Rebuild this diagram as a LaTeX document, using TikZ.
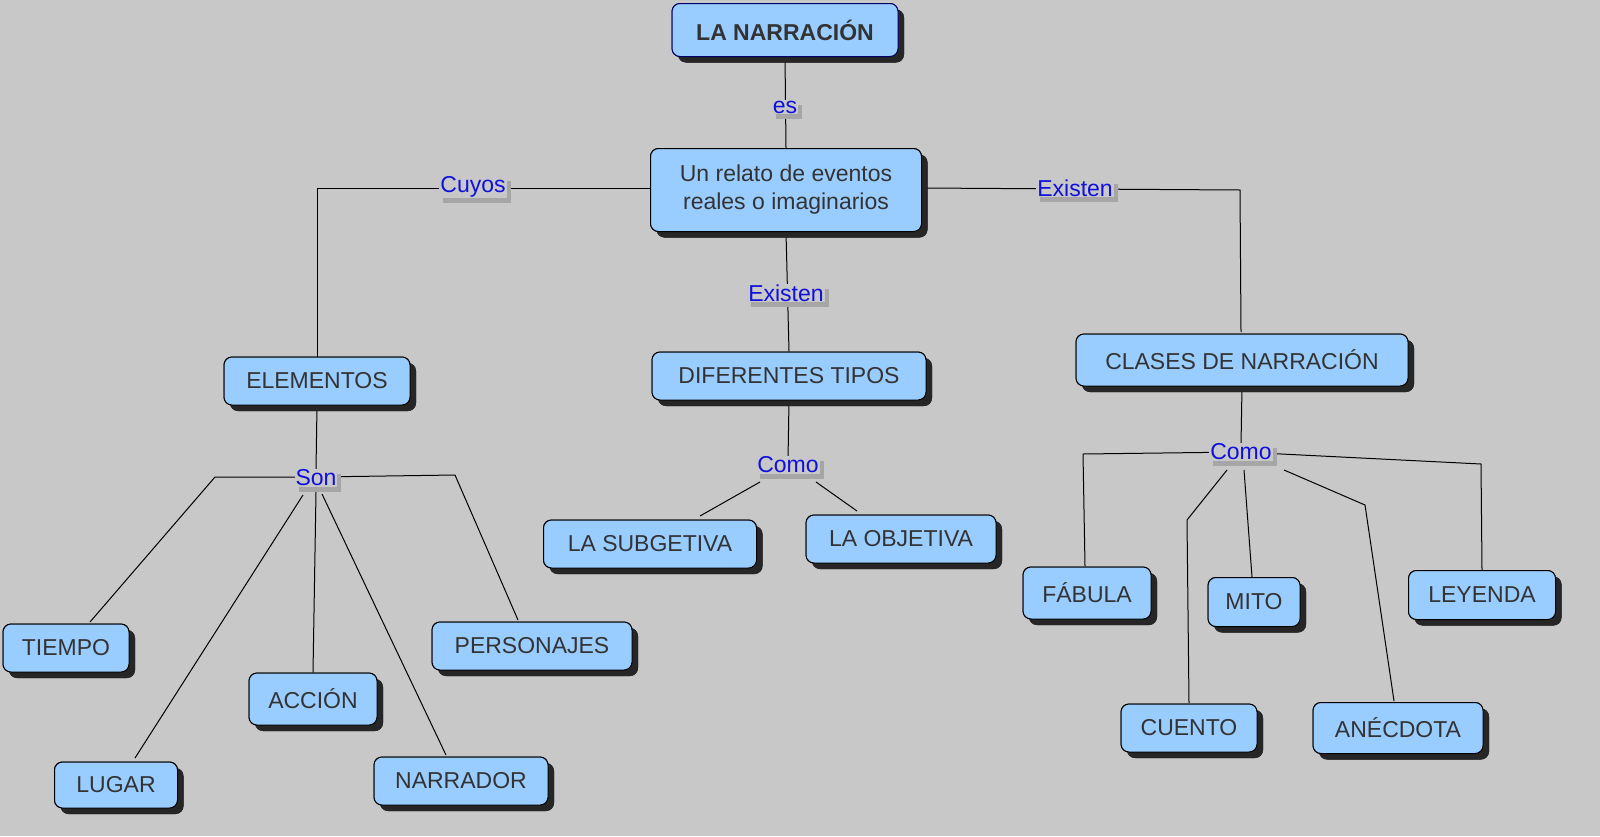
\documentclass[tikz,border=0pt]{standalone}
\usepackage{fontspec}
\setmainfont{Liberation Sans}
\usetikzlibrary{shadows}
\definecolor{bg}{HTML}{C8C8C8}
\definecolor{boxc}{HTML}{99CCFF}
\definecolor{lbl}{HTML}{1010DD}
\definecolor{tx}{HTML}{333333}
\tikzset{
  box/.style={draw=black, line width=1pt, fill=boxc, rounded corners=8pt, text=tx, font=\fontsize{23}{28}\selectfont, minimum height=48pt, align=center, inner sep=2pt,
   drop shadow={shadow xshift=6pt, shadow yshift=-6pt, fill=black!85, opacity=1}},
  lab/.style={fill=bg, text=lbl, font=\fontsize{23}{28}\selectfont, inner sep=1pt,
   drop shadow={shadow xshift=4pt, shadow yshift=-5pt, fill=black!35, opacity=1}},
  ln/.style={line width=1pt}
}
\begin{document}
\begin{tikzpicture}[x=1pt,y=-1pt]
\fill[bg] (0,0) rectangle (1600,836);
\useasboundingbox (0,0) rectangle (1600,836);
% lines first
\coordinate (c1) at (317,188);
\coordinate (c2) at (1240,190);
\coordinate (s1) at (215,477);
\coordinate (s2) at (455,475);
\coordinate (r1) at (1083,454);
\coordinate (r2) at (1187,520);
\coordinate (r3) at (1365,505);
\coordinate (r4) at (1481,464);
\node[box, draw=blue!40!black, minimum width=226, minimum height=53, font=\fontsize{23}{28}\selectfont\bfseries] (ln) at (785,30) {LA NARRACIÓN};
\node[box, minimum width=271, minimum height=83] (rel) at (786,190) {Un relato de eventos\\reales o imaginarios};
\node[box, minimum width=186] (ele) at (317,381) {ELEMENTOS};
\node[box, minimum width=274] (dif) at (789,376) {DIFERENTES TIPOS};
\node[box, minimum width=332, minimum height=52] (cla) at (1242,360) {CLASES DE NARRACIÓN};
\node[box, minimum width=126] (tie) at (66,648) {TIEMPO};
\node[box, minimum width=123, minimum height=46] (lug) at (116,785) {LUGAR};
\node[box, minimum width=128, minimum height=52] (acc) at (313,699) {ACCIÓN};
\node[box, minimum width=174] (nar) at (461,781) {NARRADOR};
\node[box, minimum width=200] (per) at (532,646) {PERSONAJES};
\node[box, minimum width=213] (sub) at (650,544) {LA SUBGETIVA};
\node[box, minimum width=190] (obj) at (901,539) {LA OBJETIVA};
\node[box, minimum width=128, minimum height=52] (fab) at (1087,593) {FÁBULA};
\node[box, minimum width=92, minimum height=49] (mit) at (1254,602) {MITO};
\node[box, minimum width=147, minimum height=49] (ley) at (1482,595) {LEYENDA};
\node[box, minimum width=136] (cue) at (1189,728) {CUENTO};
\node[box, minimum width=170, minimum height=51] (ane) at (1398,728) {ANÉCDOTA};
% labels
\begin{scope}[on background layer/.style={}]
\draw[ln] (ln.south) -- (rel.north);
\draw[ln] (rel.west |- 0,188) -- (c1) -- (ele.north);
\draw[ln] (rel.east |- 0,188) -- (c2) -- (1241,332);
\draw[ln] (rel.south) -- (dif.north);
\draw[ln] (ele.south) -- (316,470);
\draw[ln] (316,477) -- (s1) -- (90,622);
\draw[ln] (316,477) -- (s2) -- (518,620);
\draw[ln] (303,495) -- (135,758);
\draw[ln] (316,492) -- (acc.north);
\draw[ln] (322,494) -- (446,755);
\draw[ln] (dif.south) -- (788,460);
\draw[ln] (760,482) -- (700,516);
\draw[ln] (816,482) -- (857,511);
\draw[ln] (cla.south) -- (1241,445);
\draw[ln] (1241,452) -- (r1) -- (1085,566);
\draw[ln] (1227,470) -- (r2) -- (1189,703);
\draw[ln] (1244,470) -- (1252,577);
\draw[ln] (1284,470) -- (r3) -- (1394,701);
\draw[ln] (1241,452) -- (r4) -- (1482,570);
\end{scope}
\node[lab] (l1) at (785,107) {es};
\node[lab] (l2) at (473,187) {Cuyos};
\node[lab] (l3) at (1075,188) {Existen};
\node[lab] (l4) at (786,293) {Existen};
\node[lab] (l5) at (316,478) {Son};
\node[lab] (l6) at (788,465) {Como};
\node[lab] (l7) at (1241,452) {Como};
% redraw boxes over lines
\foreach \n/\t/\w/\h/\x/\y in {tie/TIEMPO/126/48/66/648, lug/LUGAR/123/46/116/785, acc/ACCIÓN/128/52/313/699, nar/NARRADOR/174/48/461/781, per/PERSONAJES/200/48/532/646, sub/LA SUBGETIVA/213/48/650/544, obj/LA OBJETIVA/190/48/901/539, fab/FÁBULA/128/52/1087/593, mit/MITO/92/49/1254/602, ley/LEYENDA/147/49/1482/595, cue/CUENTO/136/48/1189/728, ane/ANÉCDOTA/170/51/1398/728, ele/ELEMENTOS/186/48/317/381, dif/DIFERENTES TIPOS/274/48/789/376, cla/CLASES DE NARRACIÓN/332/52/1242/360}
  \node[box, minimum width=\w, minimum height=\h] (\n b) at (\x,\y) {\t};
\node[box, minimum width=271, minimum height=83] (relb) at (786,190) {Un relato de eventos\\reales o imaginarios};
\node[box, draw=blue!40!black, minimum width=226, minimum height=53, font=\fontsize{23}{28}\selectfont\bfseries] (lnb) at (785,30) {LA NARRACIÓN};
\end{tikzpicture}
\end{document}
